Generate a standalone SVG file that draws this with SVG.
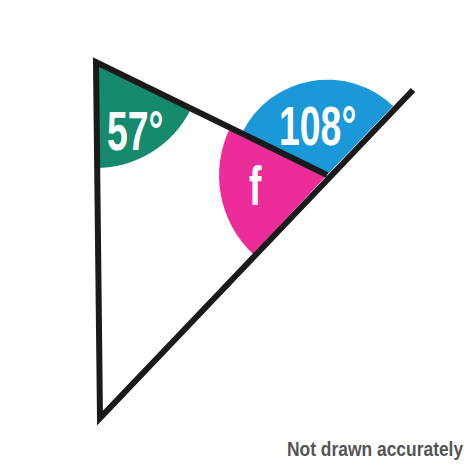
<svg xmlns="http://www.w3.org/2000/svg" width="474" height="474" viewBox="0 0 474 474">
<style>
.lbl{font-family:"Liberation Sans",Arial,sans-serif;fill:#fff;font-size:55px;font-weight:bold}
.note{font-family:"Liberation Sans",Arial,sans-serif;fill:#555;font-size:21px;font-weight:bold}
.edge{fill:none;stroke:#1a1a1a;stroke-width:6;stroke-linejoin:miter}
</style>
<rect width="474" height="474" fill="#fff"/>
<g id="angle57">
<path d="M96,62 L96,168 A106,106 0 0 0 191,109 Z" fill="#168a6c"/>
<text class="lbl" transform="translate(107,150) scale(0.68,1)">57°</text>
</g>
<g id="angle108">
<path d="M327,175 L242,133 A95,95 0 0 1 393,106 Z" fill="#1a98d8"/>
<text class="lbl" transform="translate(279,145) scale(0.68,1)">108°</text>
</g>
<g id="anglef">
<path d="M327,175 L230,128 A108,108 0 0 0 253,254 Z" fill="#ec2c98"/>
<text class="lbl" transform="translate(249,205) scale(0.68,1)">f</text>
</g>
<g id="connectors">
<path class="edge" d="M413,90 L100,418 L96,62 L327,175"/>
</g>
<g id="note">
<text class="note" transform="translate(287,456) scale(0.83,1)">Not drawn accurately</text>
</g>
</svg>
